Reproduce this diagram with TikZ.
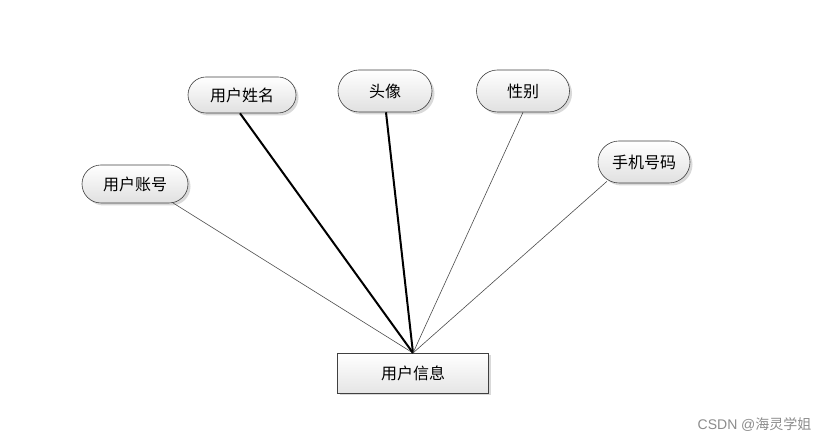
\documentclass[tikz,border=0pt]{standalone}
\usepackage{fontspec}
\newfontfamily\cjk{Noto Sans CJK SC}
\usetikzlibrary{shadows,shapes.misc,calc}
\begin{document}
\begin{tikzpicture}[x=1pt,y=-1pt,
  attr/.style={rounded rectangle, draw=black!75, line width=0.6pt, top color=white, bottom color=black!12,
    drop shadow={shadow xshift=2.5pt, shadow yshift=-2.5pt, fill=black!25, opacity=0.6},
    inner sep=0pt, font=\cjk\fontsize{16}{19}\selectfont},
  ent/.style={rectangle, draw=black!75, line width=0.6pt, top color=white, bottom color=black!10,
    drop shadow={shadow xshift=2.5pt, shadow yshift=-2.5pt, fill=black!25, opacity=0.6},
    minimum width=151pt, minimum height=40pt, inner sep=0pt, font=\cjk\fontsize{16}{19}\selectfont},
  thin/.style={draw=black!70, line width=0.6pt},
  thick/.style={draw=black, line width=2pt}]
\useasboundingbox (0,0) rectangle (831,443);
\node[attr, minimum width=106pt, minimum height=38pt] (zh) at (135,184) {用户账号};
\node[attr, minimum width=108pt, minimum height=36pt] (xm) at (242,95) {用户姓名};
\node[attr, minimum width=94pt, minimum height=42pt] (tx) at (385,91) {头像};
\node[attr, minimum width=93pt, minimum height=42pt] (xb) at (523,91) {性别};
\node[attr, minimum width=92pt, minimum height=42pt] (sj) at (644,162) {手机号码};
\node[ent] (info) at (413,373) {用户信息};
\coordinate (hub) at (413,353);
\draw[thin] ($(zh.south)+(37,-1)$) -- (hub);
\draw[thick] ($(xm.south)+(-2,0)$) -- (hub);
\draw[thick] ($(tx.south)+(1,0)$) -- (hub);
\draw[thin] (xb.south) -- (hub);
\draw[thin] ($(sj.south)+(-37,-2)$) -- (hub);
\node[text=black!45, font=\fontspec{Liberation Sans}\fontsize{14}{16}\selectfont, anchor=east] (wm) at (815,425) {CSDN @{\cjk 海灵学姐}};
\end{tikzpicture}
\end{document}
